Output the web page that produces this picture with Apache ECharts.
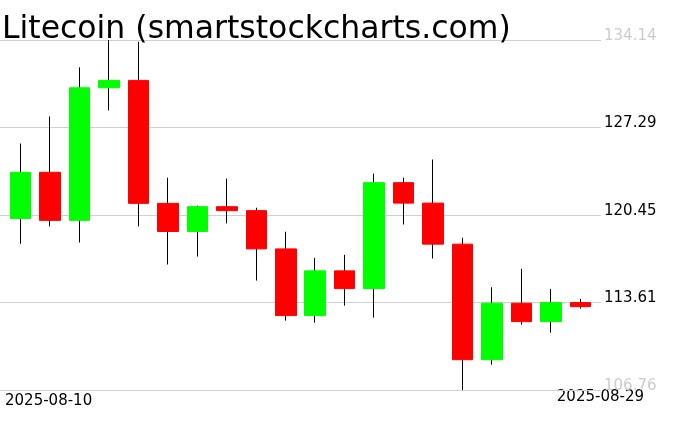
<!DOCTYPE html>
<html>
<head>
<meta charset="utf-8">
<script src="https://cdn.jsdelivr.net/npm/echarts@6/dist/echarts.min.js"></script>
<style>
  html, body { margin: 0; padding: 0; background: #fff; }
  #chart { width: 676px; height: 431px; }
</style>
</head>
<body>
<div id="chart"></div>
<script>
// daily candles
const dates = ['2025-08-10', '2025-08-11', '2025-08-12', '2025-08-13', '2025-08-14',
  '2025-08-15', '2025-08-16', '2025-08-17', '2025-08-18', '2025-08-19',
  '2025-08-20', '2025-08-21', '2025-08-22', '2025-08-23', '2025-08-24',
  '2025-08-25', '2025-08-26', '2025-08-27', '2025-08-28', '2025-08-29'];
const opens = [120.18, 123.79, 120.03, 130.40, 130.98, 121.36, 119.16, 121.10, 120.79, 117.80,
  112.58, 116.08, 114.69, 122.98, 121.38, 118.17, 109.13, 113.55, 112.11, 113.60];
const closes = [123.79, 120.03, 130.40, 130.98, 121.36, 119.16, 121.10, 120.79, 117.80, 112.58,
  116.08, 114.69, 122.98, 121.38, 118.17, 109.13, 113.55, 112.11, 113.60, 113.28];
const highs = [126.04, 128.16, 132.00, 134.14, 134.00, 123.37, 121.18, 123.30, 121.02, 119.14,
  117.10, 117.34, 123.69, 123.37, 124.79, 118.67, 114.80, 116.24, 114.67, 113.89];
const lows = [118.20, 119.56, 118.30, 128.63, 119.56, 116.58, 117.20, 119.79, 115.32, 112.19,
  112.03, 113.36, 112.42, 119.71, 117.05, 106.76, 108.74, 111.87, 111.24, 113.13];
const yTicks = [106.76, 113.61, 120.45, 127.29, 134.14];
const title = 'Litecoin (smartstockcharts.com)';

// thin face if there is one, else plain DejaVu
const FONT = '"DejaVu Sans ExtraLight", "DejaVu Sans", sans-serif';

// wick series: full low..high, black, 1px
let wickData = dates.map((d, i) => [i, opens[i], closes[i], lows[i], highs[i]]);
// body series: only open..close so it covers the wick
let bodyData = dates.map((d, i) => [i, opens[i], closes[i],
  Math.min(opens[i], closes[i]), Math.max(opens[i], closes[i])]);

// end ticks are greyed out
let isEndTick = v => Math.abs(Number(v) - yTicks[0]) < 0.005 ||
  Math.abs(Number(v) - yTicks[yTicks.length - 1]) < 0.005;

let chart = echarts.init(document.getElementById('chart'), null, { renderer: 'canvas' });
chart.setOption({
  animation: false,
  backgroundColor: '#fff',
  title: {
    text: title,
    left: 2,
    top: 14,
    padding: 0,
    textStyle: { fontFamily: FONT, fontSize: 31.5, fontWeight: 'normal', color: '#000' }
  },
  grid: { left: 0, right: 75, top: 40, bottom: 41 },
  xAxis: {
    type: 'value',
    min: -0.6955,
    max: 19.6955,
    axisLine: { show: false },
    axisTick: { show: false },
    axisLabel: { show: false },
    splitLine: { show: false }
  },
  yAxis: {
    type: 'value',
    position: 'right',
    min: yTicks[0],
    max: yTicks[yTicks.length - 1],
    axisLine: { show: false },
    axisTick: { show: false, customValues: yTicks },
    axisLabel: {
      customValues: yTicks,
      margin: 3,
      fontFamily: FONT,
      fontSize: 15,
      lineHeight: 8,
      verticalAlign: 'bottom',
      color: (v, i) => isEndTick(v) ? '#cccccc' : '#000',
      formatter: v => Number(v).toFixed(2)
    },
    splitLine: { show: true, lineStyle: { color: '#d0d0d0', width: 1 } }
  },
  graphic: [
    {
      type: 'text', left: 5, top: 394,
      style: { text: dates[0], font: '15px ' + FONT, fill: '#000' }
    },
    {
      type: 'text', right: 32, top: 390,
      style: { text: dates[dates.length - 1], font: '15px ' + FONT, fill: '#000' }
    }
  ],
  series: [
    {
      type: 'candlestick',
      data: wickData,
      barWidth: 1,
      itemStyle: { color: '#000', color0: '#000', borderColor: '#000', borderColor0: '#000', borderWidth: 1 }
    },
    {
      type: 'candlestick',
      data: bodyData,
      barWidth: 21,
      itemStyle: { color: '#00ff00', color0: '#ff0000', borderColor: '#00ff00', borderColor0: '#ff0000', borderWidth: 1 }
    }
  ]
});
window.addEventListener('resize', function () {
  chart.resize();
});
</script>
</body>
</html>
